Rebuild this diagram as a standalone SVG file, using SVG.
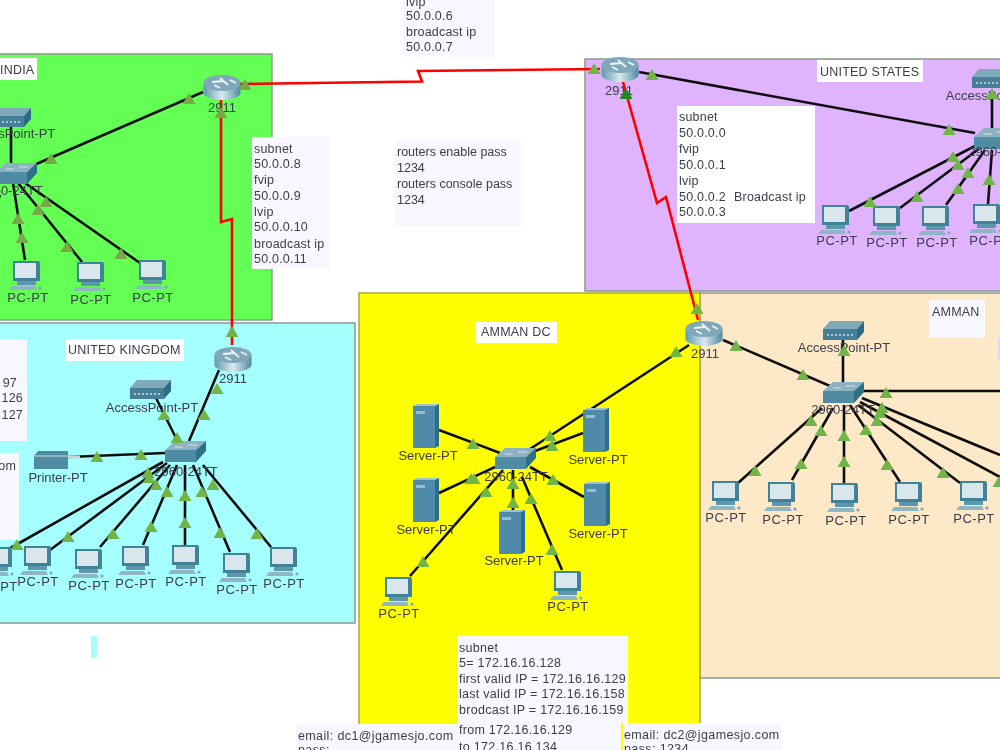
<svg xmlns="http://www.w3.org/2000/svg" xmlns:xlink="http://www.w3.org/1999/xlink" width="1000" height="750" viewBox="0 0 1000 750">
<style>
text{font-family:"Liberation Sans",Arial,sans-serif;fill:#3c3c4c}
.n{font-size:12.5px;letter-spacing:.2px}
.m{font-size:12.5px}
.l{font-size:13px;text-anchor:middle}
.p{font-size:13px;letter-spacing:.5px;text-anchor:middle}
.z{stroke:#8a9a8a;stroke-width:1.5}
.b{fill:#f7f8ff}
.w{fill:#fff}
.k{fill:none;stroke:#111;stroke-width:2.6}
.r{fill:none;stroke:#f00;stroke-width:2.6}
.g{fill:#6fb544}
.o{fill:#79a848}
.d{fill:#1f8a1f}
</style>
<defs>
<filter id="s" x="0" y="0" width="100%" height="100%"><feGaussianBlur stdDeviation="0.45"/></filter>
<linearGradient id="rg" x1="0" x2="1" y1="0" y2="0"><stop offset="0" stop-color="#5f99ad"/><stop offset=".5" stop-color="#dbe9ee"/><stop offset="1" stop-color="#4f8aa0"/></linearGradient>
<path id="t" d="M0-6 6.5 5H-6.5Z"/>
<g id="pc">
<path d="M-13-15H13L14-13V5H-13Z" fill="#3f8298"/>
<rect x="-11" y="-13" width="21" height="15" fill="#d9e6ec"/>
<path d="M-9 5H10V9H-9Z" fill="#5b97ab"/>
<path d="M-14 10H9L11 14H-17Z" fill="#8fb6c4"/>
<circle cx="14" cy="12" r="1.6" fill="#7fa8b8"/>
</g>
<g id="rt">
<path d="M-18.500-3V7C-18.500 11-8 14 0 14S18.500 11 18.500 7V-3Z" fill="url(#rg)"/>
<ellipse cx="0" cy="-3" rx="18.500" ry="8" fill="#7fa9ba"/>
<path d="M-10-4 2-5M-2-8 6-1M8-6 14-3M-8-1-2 2" stroke="#eef5f8" stroke-width="1.800" fill="none"/>
</g>
<g id="sw">
<path d="M-20-2-10-11H21L11-2Z" fill="#8db3c2"/>
<path d="M-20-2H11V10H-20Z" fill="#4f8ba3"/>
<path d="M11-2 21-11V-1L11 10Z" fill="#2f6f88"/>
<path d="M-10-5H-2M3-7H12" stroke="#d6e4ea" stroke-width="1"/>
</g>
<g id="ap">
<path d="M-20-2-13-10H21L14-2Z" fill="#80a9b9"/>
<path d="M-20-2H14V9H-20Z" fill="#447f98"/>
<path d="M14-2 21-10V1L14 9Z" fill="#2a6c86"/>
<path d="M-16 4H10" stroke="#cfe0e7" stroke-width="1.500" stroke-dasharray="2 2"/>
</g>
<g id="sv">
<path d="M-13-20-9-22H13L9-20Z" fill="#9fc0cd"/>
<path d="M-13-20H9V22H-13Z" fill="#4f8ba8"/>
<path d="M9-20 13-22V20L9 22Z" fill="#2b6f8c"/>
<rect x="-10" y="-15" width="9" height="3" fill="#9dbccb"/>
</g>
</defs>
<rect width="1000" height="750" fill="#fff"/>
<g filter="url(#s)">
<rect class="z" x="-5" y="54" width="277" height="266" fill="#63ff55"/>
<rect class="z" x="-5" y="323" width="360" height="300" fill="#a6ffff"/>
<rect class="z" x="585" y="59" width="425" height="232" fill="#e0b3ff"/>
<rect class="z" x="700" y="293" width="310" height="385" fill="#fde8c8"/>
<rect x="359" y="293" width="341" height="470" fill="#ff0" stroke="#a8a840" stroke-width="1.500"/>
<rect x="91" y="636" width="6" height="22" fill="#a6ffff"/>

<g id="notes">
<rect class="w" x="-2" y="58" width="39" height="22"/><text class="n" x="0" y="74">INDIA</text>
<rect class="w" x="66" y="339" width="118" height="22"/><text class="n" x="68" y="354">UNITED KINGDOM</text>
<rect class="w" x="476" y="322" width="81" height="21"/><text class="n" x="481" y="336">AMMAN DC</text>
<rect class="w" x="817" y="60" width="106" height="22"/><text class="n" x="820" y="76">UNITED STATES</text>
<rect class="b" x="929" y="300" width="56" height="38"/><text class="n" x="932" y="316">AMMAN</text>
<rect x="998" y="338" width="3" height="22" fill="#e6d6f6"/>
<rect class="b" x="252" y="137" width="78" height="132"/>
<text class="n"><tspan x="254" y="153">subnet</tspan><tspan x="254" y="168">50.0.0.8</tspan><tspan x="254" y="184">fvip</tspan><tspan x="254" y="200">50.0.0.9</tspan><tspan x="254" y="216">lvip</tspan><tspan x="254" y="231">50.0.0.10</tspan><tspan x="254" y="248">broadcast ip</tspan><tspan x="254" y="263">50.0.0.11</tspan></text>
<rect class="b" x="403" y="0" width="92" height="57"/>
<text class="n"><tspan x="406" y="6">lvip</tspan><tspan x="406" y="20">50.0.0.6</tspan><tspan x="406" y="36">broadcast ip</tspan><tspan x="406" y="51">50.0.0.7</tspan></text>
<rect class="b" x="395" y="140" width="126" height="86"/>
<text class="m"><tspan x="397" y="156">routers enable pass</tspan><tspan x="397" y="172">1234</tspan><tspan x="397" y="188">routers console pass</tspan><tspan x="397" y="204">1234</tspan></text>
<rect class="w" x="677" y="106" width="138" height="117"/>
<text class="n"><tspan x="679" y="121">subnet</tspan><tspan x="679" y="137">50.0.0.0</tspan><tspan x="679" y="153">fvip</tspan><tspan x="679" y="169">50.0.0.1</tspan><tspan x="679" y="185">lvip</tspan><tspan x="679" y="201">50.0.0.2  </tspan><tspan x="734" y="201">Broadcast ip</tspan><tspan x="679" y="216">50.0.0.3</tspan></text>
<rect class="b" x="-2" y="339" width="29" height="102"/>
<text class="n" text-anchor="end"><tspan x="17" y="387">97</tspan><tspan x="23" y="402">.126</tspan><tspan x="23" y="419">.127</tspan></text>
<rect class="b" x="-2" y="453" width="21" height="87"/>
<text class="n" x="16" y="470" text-anchor="end">om</text>
<rect class="b" x="457" y="636" width="171" height="114"/>
<text class="n" style="letter-spacing:.28px"><tspan x="459" y="652">subnet</tspan><tspan x="459" y="667">5= 172.16.16.128</tspan><tspan x="459" y="683">first valid IP = 172.16.16.129</tspan><tspan x="459" y="698">last valid IP = 172.16.16.158</tspan><tspan x="459" y="714">brodcast IP = 172.16.16.159</tspan><tspan x="459" y="734">from 172.16.16.129</tspan><tspan x="459" y="751">to 172.16.16.134</tspan></text>
<rect class="b" x="297" y="724" width="160" height="26"/>
<text class="n" style="letter-spacing:.38px"><tspan x="298" y="740">email: dc1@jgamesjo.com</tspan><tspan x="298" y="754">pass:</tspan></text>
<rect class="b" x="621" y="723" width="160" height="27"/>
<rect x="621" y="723" width="2" height="27" fill="#ff0"/>
<text class="n" style="letter-spacing:.38px"><tspan x="624" y="739">email: dc2@jgamesjo.com</tspan><tspan x="624" y="753">pass: 1234</tspan></text>
</g>

<g id="connectors">
<polyline class="r" points="240,84 422,81.500 418,71 600,69"/>
<polyline class="r" points="221,100 221,222 232,219 232,345"/>
<polyline class="r" points="623,82 657,203 666,197 698,320"/>
<path class="k" d="M34 165 203 92M11 120V163M0 195-8 215M13 183 25 260M18 183 82 262M25 183 140 263"/>
<path class="k" d="M639 72 975 133M849 211 975 146M900 208 980 148M946 205 985 150M988 204 992 150M992 95V130"/>
<path class="k" d="M219 370 189 441M156 398 178 442M68 457 165 453M-2 555 163 462M50 550 167 463M100 547 170 465M143 545 177 465M185 545V465M230 552 193 465M271 547 203 465"/>
<path class="k" d="M689 345 527 451M439 430 500 453M439 493 495 467M583 433 535 451M584 497 530 467M513 511V470M410 576 503 470M562 570 522 477"/>
<path class="k" d="M723 340 830 386M843 340V382M863 391H1000M738 483 822 408M792 480 833 408M844 484V405M900 482 850 405M960 483 858 405M1000 477 860 402M1000 455 862 398"/>
</g>

<g id="india-router"><use href="#rt" x="222" y="86"/><text class="l" x="222" y="112">2911</text></g>
<g id="india-ap"><use href="#ap" x="10" y="118"/><text class="l" x="9" y="138">AccessPoint-PT</text></g>
<g id="india-switch"><use href="#sw" x="16" y="174"/><text class="l" x="11" y="195">2960-24TT</text></g>
<g id="india-pc1"><use href="#pc" x="26" y="276"/><text class="p" x="28" y="302">PC-PT</text></g>
<g id="india-pc2"><use href="#pc" x="90" y="277"/><text class="p" x="91" y="304">PC-PT</text></g>
<g id="india-pc3"><use href="#pc" x="152" y="275"/><text class="p" x="153" y="302">PC-PT</text></g>

<g id="us-router"><use href="#rt" x="620" y="68"/><text class="l" x="619" y="95">2911</text></g>
<g id="us-ap"><use href="#ap" x="992" y="79"/><text class="l" x="992" y="100">AccessPoint-PT</text></g>
<g id="us-switch"><use href="#sw" x="994" y="139"/><text class="l" x="1000" y="156">2960-24TT</text></g>
<g id="us-pc1"><use href="#pc" x="835" y="220"/><text class="p" x="837" y="245">PC-PT</text></g>
<g id="us-pc2"><use href="#pc" x="886" y="221"/><text class="p" x="887" y="247">PC-PT</text></g>
<g id="us-pc3"><use href="#pc" x="935" y="221"/><text class="p" x="937" y="247">PC-PT</text></g>
<g id="us-pc4"><use href="#pc" x="986" y="219"/><text class="p" x="990" y="245">PC-PT</text></g>

<g id="uk-router"><use href="#rt" x="233" y="358"/><text class="l" x="233" y="383">2911</text></g>
<g id="uk-ap"><use href="#ap" x="150" y="390"/><text class="l" x="152" y="412">AccessPoint-PT</text></g>
<g id="uk-switch"><use href="#sw" x="185" y="452"/><text class="l" x="186" y="476">2960-24TT</text></g>
<g id="uk-printer"><path d="M34 456 38 451H68V469H34Z" fill="#4f8ba3"/><path d="M34 456H68" stroke="#8db3c2" stroke-width="2"/><path d="M68 457H80" stroke="#c8d4d8" stroke-width="3"/><text class="l" x="58" y="482">Printer-PT</text></g>
<g id="uk-pc1"><use href="#pc" x="-2" y="562"/><text class="p" x="-3" y="591">PC-PT</text></g>
<g id="uk-pc2"><use href="#pc" x="37" y="561"/><text class="p" x="38" y="586">PC-PT</text></g>
<g id="uk-pc3"><use href="#pc" x="88" y="564"/><text class="p" x="89" y="590">PC-PT</text></g>
<g id="uk-pc4"><use href="#pc" x="135" y="561"/><text class="p" x="136" y="588">PC-PT</text></g>
<g id="uk-pc5"><use href="#pc" x="185" y="560"/><text class="p" x="186" y="586">PC-PT</text></g>
<g id="uk-pc6"><use href="#pc" x="236" y="568"/><text class="p" x="237" y="594">PC-PT</text></g>
<g id="uk-pc7"><use href="#pc" x="283" y="562"/><text class="p" x="284" y="588">PC-PT</text></g>

<g id="dc-router"><use href="#rt" x="704" y="332"/><text class="l" x="705" y="358">2911</text></g>
<g id="dc-switch"><use href="#sw" x="515" y="459"/><text class="l" x="516" y="481">2960-24TT</text></g>
<g id="dc-s1"><use href="#sv" x="426" y="426"/><text class="l" x="428" y="460">Server-PT</text></g>
<g id="dc-s2"><use href="#sv" x="426" y="500"/><text class="l" x="426" y="534">Server-PT</text></g>
<g id="dc-s3"><use href="#sv" x="596" y="430"/><text class="l" x="598" y="464">Server-PT</text></g>
<g id="dc-s4"><use href="#sv" x="597" y="504"/><text class="l" x="598" y="538">Server-PT</text></g>
<g id="dc-s5"><use href="#sv" x="512" y="532"/><text class="l" x="514" y="565">Server-PT</text></g>
<g id="dc-pc1"><use href="#pc" x="398" y="592"/><text class="p" x="399" y="618">PC-PT</text></g>
<g id="dc-pc2"><use href="#pc" x="567" y="586"/><text class="p" x="568" y="611">PC-PT</text></g>

<g id="am-ap"><use href="#ap" x="843" y="331"/><text class="l" x="844" y="352">AccessPoint-PT</text></g>
<g id="am-switch"><use href="#sw" x="843" y="393"/><text class="l" x="843" y="414">2960-24TT</text></g>
<g id="am-pc1"><use href="#pc" x="725" y="496"/><text class="p" x="726" y="522">PC-PT</text></g>
<g id="am-pc2"><use href="#pc" x="781" y="497"/><text class="p" x="783" y="524">PC-PT</text></g>
<g id="am-pc3"><use href="#pc" x="844" y="498"/><text class="p" x="846" y="525">PC-PT</text></g>
<g id="am-pc4"><use href="#pc" x="908" y="497"/><text class="p" x="909" y="524">PC-PT</text></g>
<g id="am-pc5"><use href="#pc" x="973" y="496"/><text class="p" x="974" y="523">PC-PT</text></g>

<g id="link-lights" class="o">
<use href="#t" x="51" y="159"/><use href="#t" x="189" y="99"/><use href="#t" x="245" y="85"/><use href="#t" x="221" y="113"/>
<use href="#t" x="18" y="219"/><use href="#t" x="22" y="238"/><use href="#t" x="38" y="210"/><use href="#t" x="46" y="202"/><use href="#t" x="67" y="247"/><use href="#t" x="121" y="254"/>
</g>
<g id="link-lights-2" class="g">
<use href="#t" x="594" y="69"/><use href="#t" x="652" y="75"/><use href="#t" x="949" y="130"/><use href="#t" x="870" y="202"/><use href="#t" x="953" y="157"/><use href="#t" x="917" y="197"/><use href="#t" x="958" y="165"/><use href="#t" x="958" y="189"/><use href="#t" x="968" y="173"/><use href="#t" x="989" y="180"/><use href="#t" x="992" y="94"/>
<use href="#t" x="232" y="332"/><use href="#t" x="217" y="389"/><use href="#t" x="204" y="415"/><use href="#t" x="164" y="415"/><use href="#t" x="177" y="438"/><use href="#t" x="97" y="457"/><use href="#t" x="141" y="455"/><use href="#t" x="17" y="545"/><use href="#t" x="148" y="473"/><use href="#t" x="68" y="537"/><use href="#t" x="149" y="478"/><use href="#t" x="113" y="534"/><use href="#t" x="156" y="485"/><use href="#t" x="151" y="527"/><use href="#t" x="167" y="492"/><use href="#t" x="185" y="523"/><use href="#t" x="185" y="496"/><use href="#t" x="220" y="533"/><use href="#t" x="202" y="492"/><use href="#t" x="257" y="534"/><use href="#t" x="213" y="485"/>
<use href="#t" x="697" y="309"/><use href="#t" x="676" y="352"/><use href="#t" x="550" y="436"/><use href="#t" x="473" y="444"/><use href="#t" x="471" y="479"/><use href="#t" x="474" y="479"/><use href="#t" x="552" y="446"/><use href="#t" x="553" y="480"/><use href="#t" x="513" y="484"/><use href="#t" x="513" y="503"/><use href="#t" x="423" y="562"/><use href="#t" x="486" y="492"/><use href="#t" x="552" y="550"/><use href="#t" x="531" y="499"/>
<use href="#t" x="736" y="346"/><use href="#t" x="803" y="375"/><use href="#t" x="844" y="351"/><use href="#t" x="886" y="393"/><use href="#t" x="755" y="471"/><use href="#t" x="811" y="421"/><use href="#t" x="801" y="464"/><use href="#t" x="821" y="431"/><use href="#t" x="844" y="462"/><use href="#t" x="844" y="436"/><use href="#t" x="887" y="465"/><use href="#t" x="866" y="430"/><use href="#t" x="943" y="473"/><use href="#t" x="877" y="421"/><use href="#t" x="880" y="413"/><use href="#t" x="882" y="408"/><use href="#t" x="999" y="482"/>
</g>
<use class="d" href="#t" x="626" y="94"/>
</g>
</svg>
